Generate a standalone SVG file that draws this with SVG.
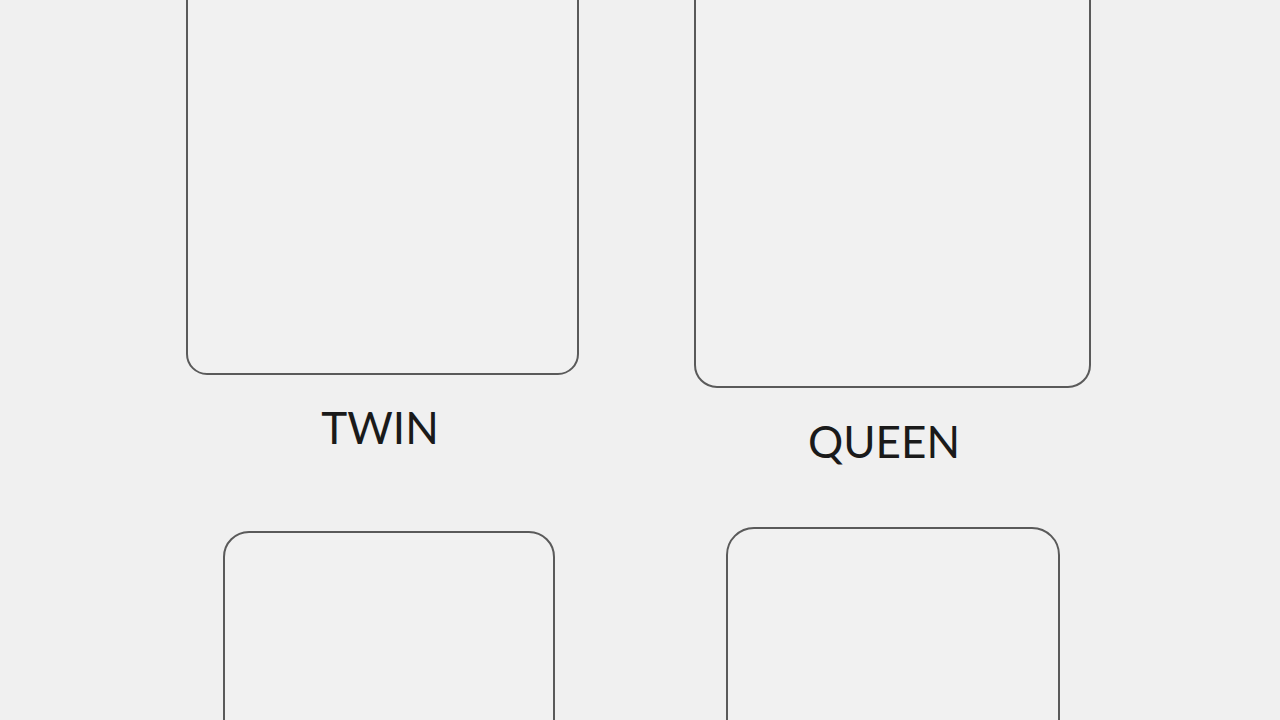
<svg xmlns="http://www.w3.org/2000/svg" width="1280" height="720" viewBox="0 0 1280 720">
<style>
.bed{fill:#f1f1f1;stroke:#5a5a5a;stroke-width:2}
.lbl{font-family:Lato,"Open Sans","Liberation Sans",sans-serif;font-size:44px;fill:#1a1a1a;text-anchor:middle}
</style>
<rect x="0" y="0" width="1280" height="720" fill="#f0f0f0"/>
<g id="twin">
<rect class="bed" x="187" y="-40" width="391" height="414" rx="20"/>
<text class="lbl" x="380" y="444">TWIN</text>
</g>
<g id="queen">
<rect class="bed" x="695" y="-40" width="395" height="427" rx="22"/>
<text class="lbl" x="884" y="458">QUEEN</text>
</g>
<g id="bed3">
<rect class="bed" x="224" y="532" width="330" height="240" rx="25"/>
</g>
<g id="bed4">
<rect class="bed" x="727" y="528" width="332" height="240" rx="27"/>
</g>
<g id="connectors"></g>
</svg>
